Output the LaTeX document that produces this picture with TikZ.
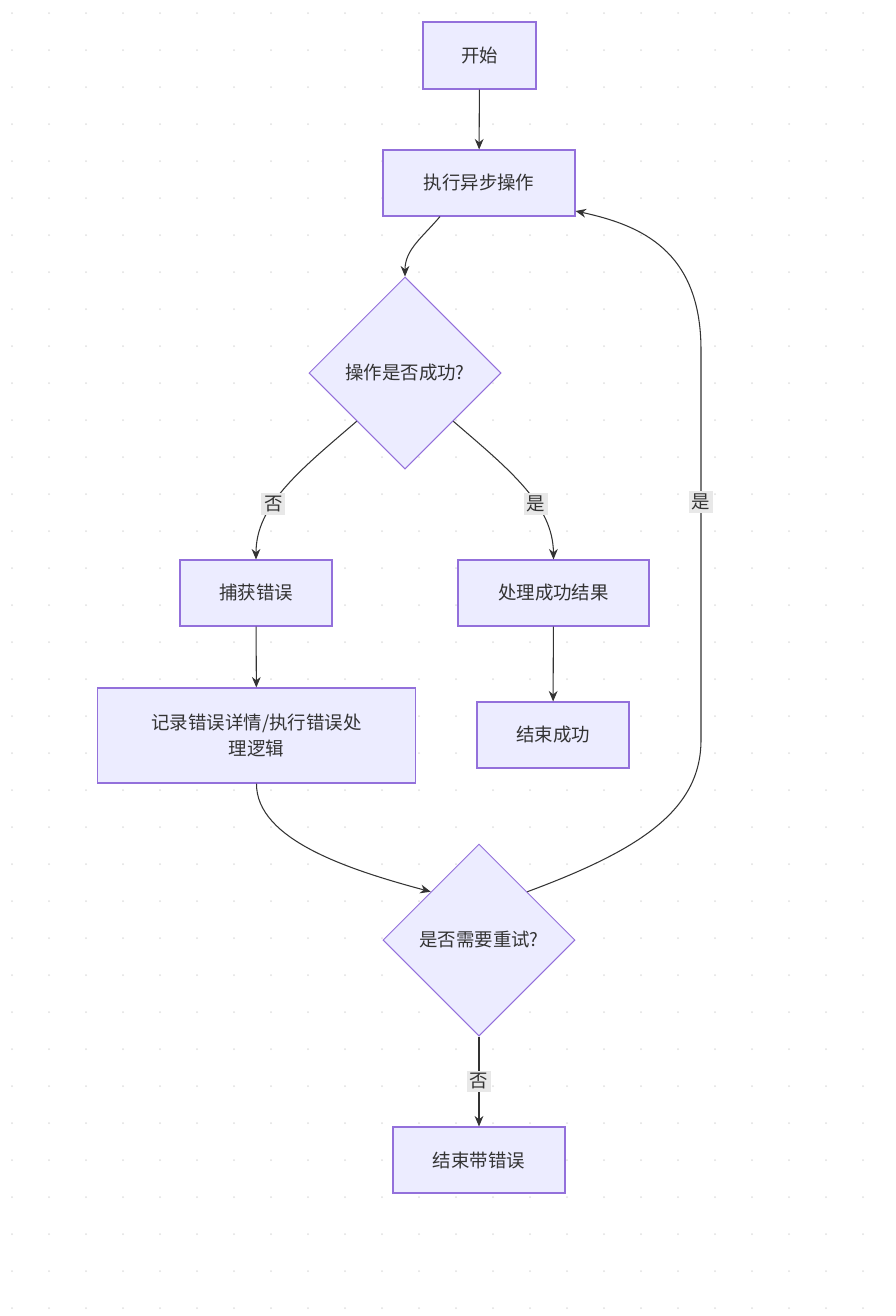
\documentclass[tikz,border=0pt]{standalone}
\usepackage{fontspec}
\setmainfont{Noto Sans CJK SC}
\usetikzlibrary{shapes.geometric,calc,arrows.meta}
\definecolor{boxfill}{HTML}{ECECFF}
\definecolor{boxline}{HTML}{9370DB}
\definecolor{ink}{HTML}{333333}
\definecolor{lblbg}{HTML}{E8E8E8}
\tikzset{
  box/.style={draw=boxline, fill=boxfill, line width=0.6pt, text=ink, inner sep=0pt, align=center, font=\fontsize{10.5}{15}\selectfont},
  decision/.style={diamond, draw=boxline, fill=boxfill, line width=0.6pt, text=ink, inner sep=0pt, minimum width=3.84cm, minimum height=3.84cm, font=\fontsize{10.5}{13}\selectfont},
  flow/.style={draw=ink, line width=0.6pt, -{Stealth[length=6pt,width=5pt]}},
  lbl/.style={fill=lblbg, text=ink, inner sep=1.5pt, font=\fontsize{10.5}{13}\selectfont}
}
\begin{document}
\begin{tikzpicture}[x=0.02cm, y=-0.02cm]
  \useasboundingbox (0,0) rectangle (896,1316);
  \fill[white] (0,0) rectangle (896,1316);
  % background dots
  \foreach \x in {12,49,...,896}
    \foreach \y in {13,50,...,1316}
      \fill[black!12] (\x,\y) circle (1);
  \node[box, minimum width=2.26cm, minimum height=1.34cm] (start) at (479.5,55.5) {开始};
  \node[box, minimum width=3.84cm, minimum height=1.32cm] (exec) at (479,183) {执行异步操作};
  \node[decision] (ok) at (405,373) {操作是否成功?};
  \node[box, minimum width=3.04cm, minimum height=1.32cm] (catch) at (256,593) {捕获错误};
  \node[box, minimum width=3.82cm, minimum height=1.32cm] (handle) at (553.5,593) {处理成功结果};
  \node[box, minimum width=6.38cm, minimum height=1.9cm] (log) at (256.5,735.5) {记录错误详情/执行错误处\\理逻辑};
  \node[box, minimum width=3.04cm, minimum height=1.32cm] (done) at (553,735) {结束成功};
  \node[decision] (retry) at (479,940) {是否需要重试?};
  \node[box, minimum width=3.44cm, minimum height=1.32cm] (fail) at (479,1160) {结束带错误};
  % connectors
  \draw[flow] (start) -- (exec);
  \draw[flow] ($(exec.south)+(-39,0)$) to[out=-130,in=90] (ok.north);
  \draw[flow] (ok.south west) .. controls (300,470) and (256,505) .. (catch.north)
    node[lbl, pos=0.62] {否};
  \draw[flow] (ok.south east) .. controls (510,470) and (553,505) .. (handle.north)
    node[lbl, pos=0.62] {是};
  \draw[flow] (catch) -- (log);
  \draw[flow] (handle) -- (done);
  \draw[flow] (log.south) .. controls (256,840) and (350,870) .. (retry.north west);
  \draw[flow] (retry.north east) .. controls (640,850) and (701,810) .. (701,740)
    -- (701,350) node[lbl, pos=0.61] {是} .. controls (701,250) and (640,225) .. ($(exec.east)+(0,28)$);
  \draw[flow] (retry.south) -- (fail.north) node[lbl, midway] {否};
\end{tikzpicture}
\end{document}
